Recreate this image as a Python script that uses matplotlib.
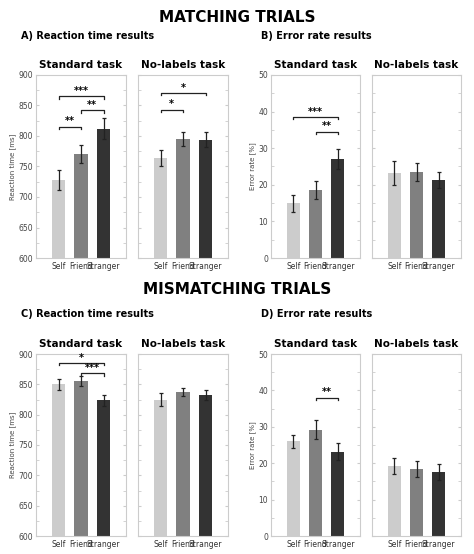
import matplotlib
matplotlib.use("Agg")
import matplotlib.pyplot as plt
from matplotlib.ticker import AutoMinorLocator

cats = ["Self", "Friend", "Stranger"]
colors = ["#cccccc", "#808080", "#333333"]

rt_match_std = [728, 770, 812]; rt_match_std_err = [16, 15, 17]
rt_match_nl = [764, 795, 794]; rt_match_nl_err = [13, 11, 12]
er_match_std = [15.0, 18.5, 27.0]; er_match_std_err = [2.3, 2.5, 2.8]
er_match_nl = [23.3, 23.5, 21.3]; er_match_nl_err = [3.3, 2.4, 2.1]
rt_mis_std = [850, 855, 824]; rt_mis_std_err = [9, 8, 9]
rt_mis_nl = [825, 837, 832]; rt_mis_nl_err = [10, 7, 8]
er_mis_std = [26.0, 29.2, 23.2]; er_mis_std_err = [1.8, 2.6, 2.4]
er_mis_nl = [19.2, 18.4, 17.5]; er_mis_nl_err = [2.2, 2.1, 2.2]

# significance: (i, j, height, label)
sig_rt_match_std = [(0, 2, 865, "***"), (1, 2, 842, "**"), (0, 1, 815, "**")]
sig_rt_match_nl = [(0, 2, 870, "*"), (0, 1, 843, "*")]
sig_er_match_std = [(0, 2, 38.5, "***"), (1, 2, 34.5, "**")]
sig_rt_mis_std = [(0, 2, 885, "*"), (1, 2, 868, "***")]
sig_er_mis_std = [(1, 2, 38, "**")]

W, H = 474, 554
fig = plt.figure(figsize=(W/100, H/100), dpi=100)

def ax_at(x0, x1, y0, y1):
    return fig.add_axes([x0/W, 1-y1/H, (x1-x0)/W, (y1-y0)/H])

def panel(ax, vals, errs, ylim, yticks, title, showy, ylabel=None, sigs=()):
    x = [1, 2, 3]
    ax.bar(x, vals, width=0.58, color=colors, zorder=2)
    ax.errorbar(x, vals, yerr=errs, fmt="none", ecolor="#222222", elinewidth=0.9, capsize=1.5, capthick=0.9, zorder=3)
    ax.set_xlim(0, 4); ax.set_ylim(*ylim)
    ax.set_xticks(x); ax.set_xticklabels(cats, fontsize=5.5, color="#333333")
    ax.set_yticks(yticks)
    ax.yaxis.set_minor_locator(AutoMinorLocator(2))
    ax.tick_params(axis="y", which="both", length=2, color="#cccccc", direction="in", right=True, pad=2)
    ax.tick_params(axis="x", length=0, pad=3)
    if showy:
        ax.set_yticklabels([str(t) for t in yticks], fontsize=5.5, color="#444444")
    else:
        ax.set_yticklabels([])
    if ylabel:
        ax.set_ylabel(ylabel, fontsize=5, color="#444444", labelpad=2)
    for s in ax.spines.values():
        s.set_color("#cccccc"); s.set_linewidth(0.8)
    ax.set_title(title, fontsize=7.5, fontweight="bold", pad=5)
    rng = ylim[1]-ylim[0]
    for i, j, h, lab in sigs:
        d = rng*0.012
        ax.plot([i+1, i+1, j+1, j+1], [h-d, h, h, h-d], color="#222222", lw=0.9)
        ax.text((i+j)/2+1, h+rng*0.003, lab, ha="center", va="bottom", fontsize=7, fontweight="bold")

rty = [600, 650, 700, 750, 800, 850, 900]
ery = [0, 10, 20, 30, 40, 50]

for (top, bot, data) in [
    (75, 258, [(rt_match_std, rt_match_std_err, sig_rt_match_std), (rt_match_nl, rt_match_nl_err, sig_rt_match_nl),
               (er_match_std, er_match_std_err, sig_er_match_std), (er_match_nl, er_match_nl_err, [])]),
    (354, 536, [(rt_mis_std, rt_mis_std_err, sig_rt_mis_std), (rt_mis_nl, rt_mis_nl_err, []),
                (er_mis_std, er_mis_std_err, sig_er_mis_std), (er_mis_nl, er_mis_nl_err, [])])]:
    xs = [(36, 126), (138, 228), (271, 360), (372, 461)]
    for k, (v, e, s) in enumerate(data):
        ax = ax_at(xs[k][0], xs[k][1], top, bot)
        isrt = k < 2
        panel(ax, v, e, (600, 900) if isrt else (0, 50), rty if isrt else ery,
              "Standard task" if k % 2 == 0 else "No-labels task", k % 2 == 0,
              ("Reaction time [ms]" if isrt else "Error rate [%]") if k % 2 == 0 else None, s)

fig.text(0.5, 1-18/H, "MATCHING TRIALS", ha="center", va="center", fontsize=11, fontweight="bold")
fig.text(21/W, 1-36/H, "A) Reaction time results", ha="left", va="center", fontsize=7, fontweight="bold")
fig.text(261/W, 1-36/H, "B) Error rate results", ha="left", va="center", fontsize=7, fontweight="bold")
fig.text(0.5, 1-290/H, "MISMATCHING TRIALS", ha="center", va="center", fontsize=11, fontweight="bold")
fig.text(21/W, 1-314/H, "C) Reaction time results", ha="left", va="center", fontsize=7, fontweight="bold")
fig.text(261/W, 1-314/H, "D) Error rate results", ha="left", va="center", fontsize=7, fontweight="bold")

fig.savefig("out.png", dpi=100, facecolor="white")
